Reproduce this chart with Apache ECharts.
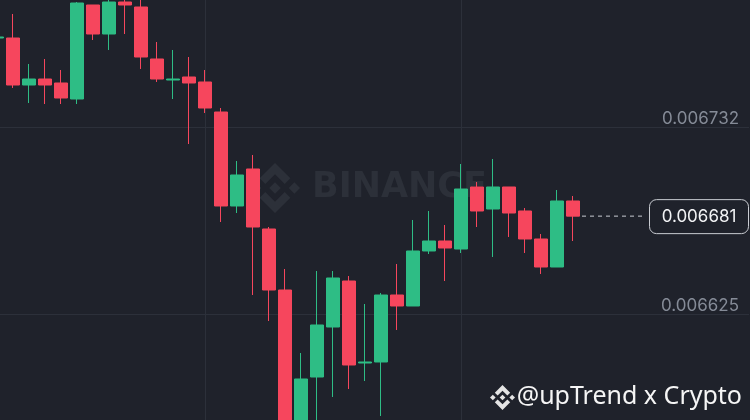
<!DOCTYPE html>
<html>
<head>
<meta charset="utf-8">
<title>Candles</title>
<script src="https://cdn.jsdelivr.net/npm/echarts@6/dist/echarts.min.js"></script>
<style>
  html, body { margin: 0; padding: 0; background: #1f222b; }
  #chart { width: 750px; height: 420px; }
</style>
</head>
<body>
<div id="chart"></div>
<script>
// candle prices, oldest first
const opens = [
  0.00678292, 0.00678292, 0.00675603, 0.00675946, 0.00675718, 0.00674802, 0.00680181, 0.00678521,
  0.00680352, 0.00680066, 0.00677091, 0.00675889, 0.00676061, 0.00675775, 0.00674058, 0.00668680,
  0.00670797, 0.00667364, 0.00663873, 0.00655577, 0.00658895, 0.00661756, 0.00664388, 0.00659696,
  0.00659754, 0.00663587, 0.00662958, 0.00666105, 0.00666677, 0.00666219, 0.00669767, 0.00668508,
  0.00669767, 0.00668394, 0.00666792, 0.00665189, 0.00668966
]
const closes = [
  0.00678350, 0.00675603, 0.00675946, 0.00675603, 0.00674859, 0.00680295, 0.00678521, 0.00680352,
  0.00680181, 0.00677205, 0.00675946, 0.00675946, 0.00675718, 0.00674287, 0.00668680, 0.00670454,
  0.00667478, 0.00663873, 0.00655863, 0.00658781, 0.00661871, 0.00664560, 0.00659582, 0.00659754,
  0.00663587, 0.00662958, 0.00666105, 0.00666677, 0.00666277, 0.00669652, 0.00668394, 0.00669767,
  0.00668279, 0.00666792, 0.00665189, 0.00668966, 0.00668100
]
const lows = [
  0.00678064, 0.00675432, 0.00674573, 0.00674516, 0.00674516, 0.00674516, 0.00678178, 0.00677606,
  0.00678521, 0.00676519, 0.00675775, 0.00674802, 0.00672227, 0.00674001, 0.00667764, 0.00668279,
  0.00663587, 0.00662099, 0.00655290, 0.00655004, 0.00655290, 0.00657751, 0.00658209, 0.00658666,
  0.00656664, 0.00661585, 0.00662958, 0.00665933, 0.00664388, 0.00665990, 0.00667478, 0.00665762,
  0.00666906, 0.00665990, 0.00664789, 0.00665189, 0.00666677
]
const highs = [
  0.00678579, 0.00679666, 0.00676805, 0.00677091, 0.00676461, 0.00680352, 0.00680181, 0.00680639,
  0.00680810, 0.00680639, 0.00678064, 0.00677606, 0.00677205, 0.00676461, 0.00674287, 0.00671255,
  0.00671598, 0.00667478, 0.00665075, 0.00660269, 0.00664961, 0.00664961, 0.00664674, 0.00663072,
  0.00663702, 0.00665361, 0.00667879, 0.00668394, 0.00667593, 0.00671083, 0.00670053, 0.00671369,
  0.00669767, 0.00668565, 0.00667078, 0.00669595, 0.00669252
]

// time slots on the x axis (the last ones are still empty)
const categories = Array.from({ length: 48 }, (_, i) => String(i))
// slots that carry a vertical grid line
const gridSlots = [13, 29]
// price levels with a labelled grid line
const yTicks = [0.006625, 0.006732]

const lastPrice = closes[closes.length - 1]
const step = +(yTicks[1] - yTicks[0]).toFixed(6)

const UP = '#2ebd85'
const DOWN = '#f6465d'
const BG = '#1f222b'
const GRID = '#2c303a'

// binance mark, as polygons in a 126.6 box
const bnbShapes = [
  [[38.73, 53.2], [63.32, 28.62], [87.92, 53.22], [102.23, 38.91], [63.32, 0], [24.42, 38.9]],
  [[0, 63.31], [14.3, 49], [28.61, 63.31], [14.3, 77.61]],
  [[38.73, 73.41], [63.32, 98], [87.92, 73.4], [102.23, 87.69], [63.32, 126.6], [24.41, 87.72]],
  [[98, 63.31], [112.3, 49], [126.61, 63.3], [112.3, 77.62]],
  [[77.83, 63.3], [63.32, 48.78], [48.81, 63.28], [63.32, 77.78]]
]

const logo = (id, x, y, size, fill, z) => bnbShapes.map((pts, i) => ({
  id: id + i,
  type: 'polygon',
  z: z,
  shape: { points: pts.map(p => [x + p[0] * size / 126.6, y + p[1] * size / 126.6]) },
  style: { fill: fill }
}))

const chart = echarts.init(document.getElementById('chart'))

chart.setOption({
  backgroundColor: BG,
  animation: false,
  grid: { left: -3, top: -60, width: 752, height: 561, outerBoundsMode: 'none', containLabel: false },
  xAxis: {
    type: 'category',
    data: categories,
    boundaryGap: false,
    axisLine: { show: false },
    axisTick: { show: false },
    axisLabel: { show: false },
    splitLine: {
      show: true,
      interval: (index) => gridSlots.includes(index),
      lineStyle: { color: GRID, width: 1 }
    }
  },
  yAxis: {
    type: 'value',
    position: 'right',
    min: +(yTicks[0] - step).toFixed(6),
    max: +(yTicks[1] + step).toFixed(6),
    interval: step,
    axisLine: { show: false },
    axisTick: { show: false },
    axisLabel: {
      inside: true,
      margin: 10,
      verticalAlign: 'bottom',
      showMinLabel: false,
      showMaxLabel: false,
      color: '#858b97',
      fontFamily: 'Inter',
      fontSize: 17,
      formatter: (v) => v.toFixed(6)
    },
    splitLine: { show: true, lineStyle: { color: GRID, width: 1 } }
  },
  series: [{
    type: 'candlestick',
    barWidth: 14,
    z: 2,
    data: opens.map((o, i) => [o, closes[i], lows[i], highs[i]]),
    itemStyle: {
      color: UP,
      color0: DOWN,
      borderColor: UP,
      borderColor0: DOWN,
      borderWidth: 1
    }
  }]
})

// last price marker, placed through the chart's own scales
const py = chart.convertToPixel({ yAxisIndex: 0 }, lastPrice)
const px = chart.convertToPixel({ xAxisIndex: 0 }, categories[closes.length - 1])

chart.setOption({
  graphic: [
    ...logo('wm', 250, 163, 50, '#2c3039', 0),
    {
      id: 'wmText',
      type: 'text',
      z: 0,
      x: 312,
      y: 188,
      style: {
        text: 'BINANCE',
        fill: '#2c3039',
        font: 'bold 35px "DejaVu Sans"',
        verticalAlign: 'middle'
      }
    },
    {
      id: 'lastLine',
      type: 'line',
      z: 10,
      shape: { x1: px + 9, y1: py, x2: 642, y2: py },
      style: { stroke: '#c9ccd2', lineWidth: 1, lineDash: [4, 4] }
    },
    {
      id: 'lastBox',
      type: 'rect',
      z: 10,
      shape: { x: 649.5, y: py - 16.5, width: 99, height: 34, r: 7 },
      style: { fill: BG, stroke: '#c9ccd2', lineWidth: 1 }
    },
    {
      id: 'lastText',
      type: 'text',
      z: 11,
      x: 699,
      y: py + 1,
      style: {
        text: lastPrice.toFixed(6),
        fill: '#f2f3f5',
        font: '17px Inter',
        align: 'center',
        verticalAlign: 'middle'
      }
    },
    ...logo('credit', 490, 385, 25, '#e4e4e4', 10),
    {
      id: 'creditText',
      type: 'text',
      z: 10,
      x: 742,
      y: 397,
      style: {
        text: '@upTrend x Crypto',
        fill: '#f5f5f5',
        font: '25px "Noto Sans"',
        align: 'right',
        verticalAlign: 'middle'
      }
    }
  ]
})

window.addEventListener('resize', () => chart.resize())
</script>
</body>
</html>
